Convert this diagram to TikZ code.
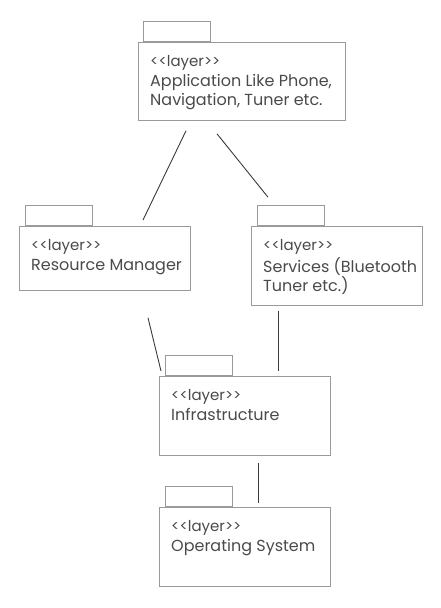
\documentclass[tikz,border=0pt]{standalone}
\usepackage{fontspec}
\setmainfont{Poppins}
\usetikzlibrary{positioning}
\definecolor{boxgray}{HTML}{9A9A9A}
\definecolor{txtgray}{HTML}{4A4A4A}
\definecolor{linkgray}{HTML}{3A3A3A}
\newcommand{\namestrut}{\rule{0pt}{13pt}}
\tikzset{
  layerbox/.style={draw=boxgray, line width=.8pt, inner sep=0pt, anchor=north west},
  tabbox/.style={draw=boxgray, line width=.8pt, inner sep=0pt, anchor=south west, minimum width=67pt, minimum height=20pt},
  stereo/.style={anchor=base west, inner sep=0pt, text=txtgray, font=\fontsize{15}{19}\selectfont},
  layername/.style={anchor=north west, align=left, inner sep=0pt, text=txtgray, font=\fontsize{16}{19.5}\selectfont},
  link/.style={draw=linkgray, line width=.9pt},
}
\begin{document}
\begin{tikzpicture}[x=1pt, y=1pt]
\useasboundingbox (0,0) rectangle (441,-608);

\node [layerbox, minimum width=207pt, minimum height=78pt] (app) at (138,-42) {};
\node [layerbox, minimum width=171pt, minimum height=64pt] (rm) at (19,-226) {};
\node [layerbox, minimum width=171pt, minimum height=79pt] (svc) at (251,-226) {};
\node [layerbox, minimum width=171pt, minimum height=79pt] (infra) at (159,-376) {};
\node [layerbox, minimum width=171pt, minimum height=79pt] (os) at (159,-507) {};

\node [tabbox] (apptab) at ([xshift=5pt]app.north west) {};
\node [tabbox] (rmtab) at ([xshift=6pt]rm.north west) {};
\node [tabbox] (svctab) at ([xshift=6pt]svc.north west) {};
\node [tabbox] (infratab) at ([xshift=6pt]infra.north west) {};
\node [tabbox] (ostab) at ([xshift=6pt]os.north west) {};

\node [stereo] (appst) at ([shift={(12,-24)}]app.north west) {<{}<layer>{}>};
\node [stereo] (rmst) at ([shift={(12,-24)}]rm.north west) {<{}<layer>{}>};
\node [stereo] (svcst) at ([shift={(12,-24)}]svc.north west) {<{}<layer>{}>};
\node [stereo] (infrast) at ([shift={(12,-24)}]infra.north west) {<{}<layer>{}>};
\node [stereo] (osst) at ([shift={(12,-24)}]os.north west) {<{}<layer>{}>};

\node [layername] (appname) at ([shift={(12,-31)}]app.north west) {\namestrut Application Like Phone,\\Navigation, Tuner etc.};
\node [layername] (rmname) at ([shift={(12,-31)}]rm.north west) {\namestrut Resource Manager};
\node [layername] (svcname) at ([shift={(12,-31)}]svc.north west) {\namestrut Services (Bluetooth\\Tuner etc.)};
\node [layername] (infraname) at ([shift={(12,-31)}]infra.north west) {\namestrut Infrastructure};
\node [layername] (osname) at ([shift={(12,-31)}]os.north west) {\namestrut Operating System};

\draw [link] ([shift={(48,-10)}]app.south west) -- ([shift={(124,6)}]rm.north west);
\draw [link] ([shift={(79,-13)}]app.south west) -- ([shift={(11,8)}]svctab.north west);
\draw [link] ([shift={(129,-27)}]rm.south west) -- ([shift={(2,5)}]infra.north west);
\draw [link] ([shift={(27,-5)}]svc.south west) -- ([shift={(119,5)}]infra.north west);
\draw [link] ([shift={(99,-7)}]infra.south west) -- ([shift={(99,4)}]os.north west);
\end{tikzpicture}
\end{document}
